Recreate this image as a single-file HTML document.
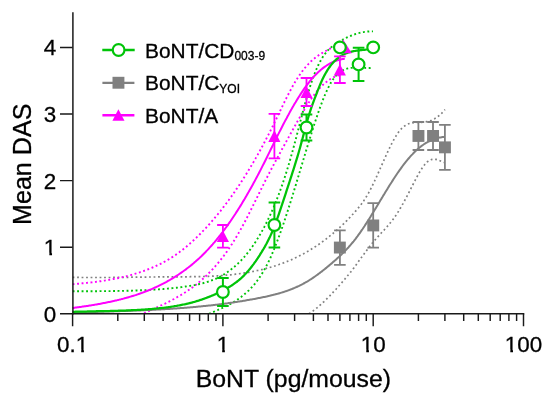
<!DOCTYPE html>
<html><head><meta charset="utf-8"><title>BoNT dose response</title>
<style>html,body{margin:0;padding:0;background:#fff}body{width:550px;height:404px;overflow:hidden}</style></head>
<body>
<svg width="550" height="404" viewBox="0 0 550 404" style="display:block">
<rect width="550" height="404" fill="#fff"/>
<defs><clipPath id="plot"><rect x="72.6" y="0" width="460" height="313.8"/></clipPath></defs>
<path d="M72.6,277.4 L73.6,277.4 L74.6,277.4 L75.6,277.4 L76.6,277.4 L77.6,277.4 L78.6,277.4 L79.6,277.5 L80.6,277.5 L81.6,277.5 L82.6,277.5 L83.6,277.5 L84.6,277.5 L85.6,277.5 L86.6,277.5 L87.6,277.5 L88.6,277.5 L89.6,277.5 L90.6,277.5 L91.6,277.5 L92.6,277.5 L93.6,277.5 L94.6,277.5 L95.6,277.5 L96.6,277.5 L97.6,277.5 L98.6,277.5 L99.6,277.5 L100.6,277.5 L101.6,277.5 L102.6,277.5 L103.6,277.5 L104.6,277.5 L105.6,277.5 L106.6,277.5 L107.6,277.5 L108.6,277.5 L109.6,277.5 L110.6,277.5 L111.6,277.5 L112.6,277.4 L113.6,277.4 L114.6,277.4 L115.6,277.4 L116.6,277.4 L117.6,277.4 L118.6,277.4 L119.6,277.4 L120.6,277.4 L121.6,277.4 L122.6,277.3 L123.6,277.3 L124.6,277.3 L125.6,277.3 L126.6,277.3 L127.6,277.3 L128.6,277.3 L129.6,277.3 L130.6,277.3 L131.6,277.2 L132.6,277.2 L133.6,277.2 L134.6,277.2 L135.6,277.2 L136.6,277.2 L137.6,277.2 L138.6,277.2 L139.6,277.1 L140.6,277.1 L141.6,277.1 L142.6,277.1 L143.6,277.1 L144.6,277.1 L145.6,277.1 L146.6,277.1 L147.6,277.1 L148.6,277.0 L149.6,277.0 L150.6,277.0 L151.6,277.0 L152.6,277.0 L153.6,277.0 L154.6,277.0 L155.6,277.0 L156.6,277.0 L157.6,277.0 L158.6,276.9 L159.6,276.9 L160.6,276.9 L161.6,276.9 L162.6,276.9 L163.6,276.9 L164.6,276.9 L165.6,276.9 L166.6,276.9 L167.6,276.9 L168.6,276.9 L169.6,276.9 L170.6,276.9 L171.6,276.9 L172.6,276.9 L173.6,276.9 L174.6,276.9 L175.6,276.9 L176.6,276.8 L177.6,276.8 L178.6,276.8 L179.6,276.8 L180.6,276.8 L181.6,276.8 L182.6,276.8 L183.6,276.8 L184.6,276.8 L185.6,276.8 L186.6,276.8 L187.6,276.8 L188.6,276.8 L189.6,276.8 L190.6,276.7 L191.6,276.7 L192.6,276.7 L193.6,276.7 L194.6,276.7 L195.6,276.7 L196.6,276.6 L197.6,276.6 L198.6,276.6 L199.6,276.6 L200.6,276.6 L201.6,276.5 L202.6,276.5 L203.6,276.5 L204.6,276.4 L205.6,276.4 L206.6,276.4 L207.6,276.3 L208.6,276.3 L209.6,276.2 L210.6,276.2 L211.6,276.2 L212.6,276.1 L213.6,276.1 L214.6,276.0 L215.6,275.9 L216.6,275.9 L217.6,275.8 L218.6,275.8 L219.6,275.7 L220.6,275.6 L221.6,275.6 L222.6,275.5 L223.6,275.4 L224.6,275.3 L225.6,275.2 L226.6,275.1 L227.6,275.1 L228.6,275.0 L229.6,274.9 L230.6,274.8 L231.6,274.7 L232.6,274.5 L233.6,274.4 L234.6,274.3 L235.6,274.2 L236.6,274.1 L237.6,273.9 L238.6,273.8 L239.6,273.7 L240.6,273.5 L241.6,273.4 L242.6,273.3 L243.6,273.1 L244.6,272.9 L245.6,272.8 L246.6,272.6 L247.6,272.5 L248.6,272.3 L249.6,272.1 L250.6,271.9 L251.6,271.7 L252.6,271.5 L253.6,271.3 L254.6,271.1 L255.6,270.9 L256.6,270.7 L257.6,270.5 L258.6,270.3 L259.6,270.1 L260.6,269.8 L261.6,269.6 L262.6,269.4 L263.6,269.1 L264.6,268.8 L265.6,268.6 L266.6,268.3 L267.6,268.1 L268.6,267.8 L269.6,267.5 L270.6,267.2 L271.6,266.9 L272.6,266.6 L273.6,266.3 L274.6,266.0 L275.6,265.7 L276.6,265.3 L277.6,265.0 L278.6,264.7 L279.6,264.3 L280.6,264.0 L281.6,263.6 L282.6,263.2 L283.6,262.9 L284.6,262.5 L285.6,262.1 L286.6,261.7 L287.6,261.3 L288.6,260.9 L289.6,260.4 L290.6,260.0 L291.6,259.6 L292.6,259.1 L293.6,258.7 L294.6,258.2 L295.6,257.7 L296.6,257.3 L297.6,256.8 L298.6,256.3 L299.6,255.8 L300.6,255.3 L301.6,254.8 L302.6,254.2 L303.6,253.7 L304.6,253.1 L305.6,252.6 L306.6,252.0 L307.6,251.4 L308.6,250.9 L309.6,250.3 L310.6,249.7 L311.6,249.0 L312.6,248.4 L313.6,247.8 L314.6,247.1 L315.6,246.5 L316.6,245.8 L317.6,245.1 L318.6,244.5 L319.6,243.8 L320.6,243.1 L321.6,242.4 L322.6,241.6 L323.6,240.9 L324.6,240.1 L325.6,239.4 L326.6,238.6 L327.6,237.8 L328.6,237.0 L329.6,236.2 L330.6,235.4 L331.6,234.6 L332.6,233.8 L333.6,232.9 L334.6,232.1 L335.6,231.2 L336.6,230.3 L337.6,229.4 L338.6,228.5 L339.6,227.6 L340.6,226.6 L341.6,225.7 L342.6,224.7 L343.6,223.8 L344.6,222.8 L345.6,221.8 L346.6,220.8 L347.6,219.8 L348.6,218.7 L349.6,217.7 L350.6,216.6 L351.6,215.6 L352.6,214.5 L353.6,213.4 L354.6,212.3 L355.6,211.1 L356.6,210.0 L357.6,208.8 L358.6,207.6 L359.6,206.4 L360.6,205.1 L361.6,203.8 L362.6,202.4 L363.6,201.0 L364.6,199.5 L365.6,198.0 L366.6,196.3 L367.6,194.6 L368.6,192.9 L369.6,191.0 L370.6,189.1 L371.6,187.2 L372.6,185.2 L373.6,183.1 L374.6,181.0 L375.6,178.8 L376.6,176.7 L377.6,174.5 L378.6,172.2 L379.6,170.0 L380.6,167.7 L381.6,165.5 L382.6,163.2 L383.6,160.9 L384.6,158.7 L385.6,156.5 L386.6,154.3 L387.6,152.1 L388.6,149.9 L389.6,147.9 L390.6,145.8 L391.6,143.8 L392.6,141.9 L393.6,140.1 L394.6,138.3 L395.6,136.6 L396.6,135.0 L397.6,133.5 L398.6,132.1 L399.6,130.8 L400.6,129.6 L401.6,128.5 L402.6,127.6 L403.6,126.7 L404.6,126.0 L405.6,125.3 L406.6,124.7 L407.6,124.2 L408.6,123.8 L409.6,123.5 L410.6,123.2 L411.6,123.0 L412.6,122.8 L413.6,122.6 L414.6,122.5 L415.6,122.5 L416.6,122.4 L417.6,122.4 L418.6,122.3 L419.6,122.3 L420.6,122.3 L421.6,122.3 L422.6,122.2 L423.6,122.1 L424.6,122.0 L425.6,121.9 L426.6,121.7 L427.6,121.5 L428.6,121.2 L429.6,120.9 L430.6,120.6 L431.6,120.2 L432.6,119.7 L433.6,119.2 L434.6,118.7 L435.6,118.1 L436.6,117.4 L437.6,116.7 L438.6,116.0 L439.6,115.1 L440.6,114.2 L441.6,113.3 L442.6,112.3 L443.6,111.2 L444.6,110.0 L444.9,109.6" fill="none" stroke="#808080" stroke-width="1.7" stroke-dasharray="1.8 2.7" clip-path="url(#plot)"/>
<path d="M309.0,313.8 L310.0,313.1 L311.0,312.4 L312.0,311.7 L313.0,311.0 L314.0,310.2 L315.0,309.4 L316.0,308.6 L317.0,307.8 L318.0,307.0 L319.0,306.1 L320.0,305.2 L321.0,304.3 L322.0,303.4 L323.0,302.5 L324.0,301.6 L325.0,300.6 L326.0,299.6 L327.0,298.6 L328.0,297.6 L329.0,296.6 L330.0,295.6 L331.0,294.5 L332.0,293.5 L333.0,292.4 L334.0,291.3 L335.0,290.3 L336.0,289.2 L337.0,288.0 L338.0,286.9 L339.0,285.8 L340.0,284.7 L341.0,283.5 L342.0,282.4 L343.0,281.2 L344.0,280.0 L345.0,278.9 L346.0,277.7 L347.0,276.5 L348.0,275.3 L349.0,274.1 L350.0,272.8 L351.0,271.6 L352.0,270.3 L353.0,269.0 L354.0,267.7 L355.0,266.3 L356.0,265.0 L357.0,263.6 L358.0,262.2 L359.0,260.8 L360.0,259.4 L361.0,258.0 L362.0,256.7 L363.0,255.3 L364.0,254.0 L365.0,252.6 L366.0,251.3 L367.0,250.0 L368.0,248.7 L369.0,247.4 L370.0,246.1 L371.0,244.9 L372.0,243.6 L373.0,242.4 L374.0,241.2 L375.0,240.0 L376.0,238.8 L377.0,237.7 L378.0,236.6 L379.0,235.5 L380.0,234.4 L381.0,233.3 L382.0,232.2 L383.0,231.1 L384.0,230.1 L385.0,229.0 L386.0,227.9 L387.0,226.8 L388.0,225.6 L389.0,224.4 L390.0,223.2 L391.0,222.0 L392.0,220.7 L393.0,219.4 L394.0,218.1 L395.0,216.6 L396.0,215.2 L397.0,213.7 L398.0,212.1 L399.0,210.5 L400.0,208.8 L401.0,207.1 L402.0,205.3 L403.0,203.6 L404.0,201.8 L405.0,199.9 L406.0,198.0 L407.0,196.2 L408.0,194.2 L409.0,192.3 L410.0,190.4 L411.0,188.4 L412.0,186.4 L413.0,184.5 L414.0,182.5 L415.0,180.6 L416.0,178.7 L417.0,176.8 L418.0,175.0 L419.0,173.2 L420.0,171.5 L421.0,169.9 L422.0,168.3 L423.0,166.9 L424.0,165.5 L425.0,164.3 L426.0,163.2 L427.0,162.2 L428.0,161.3 L429.0,160.6 L430.0,160.1 L431.0,159.7 L432.0,159.4 L433.0,159.2 L434.0,159.2 L435.0,159.3 L436.0,159.4 L437.0,159.7 L438.0,160.0 L439.0,160.3 L440.0,160.7 L441.0,161.2 L442.0,161.7 L443.0,162.1 L444.0,162.6" fill="none" stroke="#808080" stroke-width="1.7" stroke-dasharray="1.8 2.7" clip-path="url(#plot)"/>
<path d="M72.6,284.2 L73.6,284.1 L74.6,284.1 L75.6,284.0 L76.6,283.9 L77.6,283.8 L78.6,283.7 L79.6,283.6 L80.6,283.5 L81.6,283.4 L82.6,283.3 L83.6,283.2 L84.6,283.1 L85.6,283.0 L86.6,282.9 L87.6,282.8 L88.6,282.7 L89.6,282.6 L90.6,282.5 L91.6,282.4 L92.6,282.2 L93.6,282.1 L94.6,282.0 L95.6,281.9 L96.6,281.7 L97.6,281.6 L98.6,281.5 L99.6,281.3 L100.6,281.2 L101.6,281.0 L102.6,280.9 L103.6,280.7 L104.6,280.6 L105.6,280.4 L106.6,280.3 L107.6,280.1 L108.6,279.9 L109.6,279.7 L110.6,279.6 L111.6,279.4 L112.6,279.2 L113.6,279.0 L114.6,278.8 L115.6,278.6 L116.6,278.4 L117.6,278.2 L118.6,278.0 L119.6,277.8 L120.6,277.6 L121.6,277.3 L122.6,277.1 L123.6,276.9 L124.6,276.6 L125.6,276.4 L126.6,276.1 L127.6,275.9 L128.6,275.6 L129.6,275.3 L130.6,275.1 L131.6,274.8 L132.6,274.5 L133.6,274.2 L134.6,273.9 L135.6,273.6 L136.6,273.3 L137.6,273.0 L138.6,272.7 L139.6,272.4 L140.6,272.0 L141.6,271.7 L142.6,271.3 L143.6,271.0 L144.6,270.6 L145.6,270.3 L146.6,269.9 L147.6,269.5 L148.6,269.1 L149.6,268.7 L150.6,268.3 L151.6,267.9 L152.6,267.5 L153.6,267.1 L154.6,266.6 L155.6,266.2 L156.6,265.7 L157.6,265.2 L158.6,264.8 L159.6,264.3 L160.6,263.8 L161.6,263.3 L162.6,262.7 L163.6,262.2 L164.6,261.7 L165.6,261.1 L166.6,260.5 L167.6,260.0 L168.6,259.4 L169.6,258.8 L170.6,258.1 L171.6,257.5 L172.6,256.9 L173.6,256.2 L174.6,255.5 L175.6,254.9 L176.6,254.2 L177.6,253.5 L178.6,252.7 L179.6,252.0 L180.6,251.2 L181.6,250.5 L182.6,249.7 L183.6,248.9 L184.6,248.1 L185.6,247.3 L186.6,246.5 L187.6,245.6 L188.6,244.8 L189.6,243.9 L190.6,243.0 L191.6,242.1 L192.6,241.2 L193.6,240.3 L194.6,239.3 L195.6,238.4 L196.6,237.4 L197.6,236.5 L198.6,235.5 L199.6,234.5 L200.6,233.5 L201.6,232.5 L202.6,231.4 L203.6,230.4 L204.6,229.3 L205.6,228.3 L206.6,227.2 L207.6,226.1 L208.6,225.0 L209.6,223.9 L210.6,222.7 L211.6,221.6 L212.6,220.4 L213.6,219.3 L214.6,218.1 L215.6,216.9 L216.6,215.7 L217.6,214.5 L218.6,213.3 L219.6,212.0 L220.6,210.8 L221.6,209.5 L222.6,208.2 L223.6,206.9 L224.6,205.6 L225.6,204.3 L226.6,203.0 L227.6,201.6 L228.6,200.3 L229.6,198.9 L230.6,197.5 L231.6,196.1 L232.6,194.7 L233.6,193.3 L234.6,191.9 L235.6,190.4 L236.6,188.9 L237.6,187.5 L238.6,186.0 L239.6,184.5 L240.6,182.9 L241.6,181.4 L242.6,179.8 L243.6,178.3 L244.6,176.7 L245.6,175.1 L246.6,173.5 L247.6,171.9 L248.6,170.2 L249.6,168.6 L250.6,166.9 L251.6,165.3 L252.6,163.6 L253.6,161.9 L254.6,160.1 L255.6,158.4 L256.6,156.6 L257.6,154.9 L258.6,153.1 L259.6,151.3 L260.6,149.5 L261.6,147.6 L262.6,145.8 L263.6,143.9 L264.6,142.0 L265.6,140.2 L266.6,138.2 L267.6,136.3 L268.6,134.4 L269.6,132.4 L270.6,130.4 L271.6,128.5 L272.6,126.5 L273.6,124.4 L274.6,122.4 L275.6,120.3 L276.6,118.3 L277.6,116.2 L278.6,114.1 L279.6,112.0 L280.6,110.0 L281.6,107.9 L282.6,105.8 L283.6,103.8 L284.6,101.7 L285.6,99.7 L286.6,97.7 L287.6,95.7 L288.6,93.8 L289.6,91.8 L290.6,90.0 L291.6,88.1 L292.6,86.3 L293.6,84.6 L294.6,82.8 L295.6,81.2 L296.6,79.6 L297.6,78.0 L298.6,76.5 L299.6,75.0 L300.6,73.6 L301.6,72.2 L302.6,70.8 L303.6,69.5 L304.6,68.3 L305.6,67.1 L306.6,65.9 L307.6,64.8 L308.6,63.8 L309.6,62.7 L310.6,61.8 L311.6,60.8 L312.6,59.9 L313.6,59.1 L314.6,58.3 L315.6,57.5 L316.6,56.7 L317.6,56.0 L318.6,55.3 L319.6,54.6 L320.6,54.0 L321.6,53.4 L322.6,52.8 L323.6,52.2 L324.6,51.6 L325.6,51.0 L326.6,50.5 L327.6,50.0 L328.6,49.4 L329.6,48.9 L330.6,48.4 L331.6,47.9 L332.6,47.4 L333.6,46.8 L334.6,46.3 L335.6,45.8 L336.6,45.3 L337.6,44.7 L338.6,44.1 L339.6,43.6" fill="none" stroke="#ff00ff" stroke-width="1.9" stroke-dasharray="1.9 2.6" clip-path="url(#plot)"/>
<path d="M140.0,315.2 L141.0,314.7 L142.0,314.2 L143.0,313.8 L144.0,313.3 L145.0,312.8 L146.0,312.4 L147.0,311.9 L148.0,311.5 L149.0,311.0 L150.0,310.5 L151.0,310.1 L152.0,309.6 L153.0,309.2 L154.0,308.7 L155.0,308.3 L156.0,307.8 L157.0,307.3 L158.0,306.9 L159.0,306.4 L160.0,305.9 L161.0,305.5 L162.0,305.0 L163.0,304.5 L164.0,304.0 L165.0,303.6 L166.0,303.1 L167.0,302.6 L168.0,302.1 L169.0,301.6 L170.0,301.1 L171.0,300.6 L172.0,300.0 L173.0,299.5 L174.0,299.0 L175.0,298.4 L176.0,297.9 L177.0,297.3 L178.0,296.7 L179.0,296.2 L180.0,295.6 L181.0,295.0 L182.0,294.4 L183.0,293.8 L184.0,293.1 L185.0,292.5 L186.0,291.8 L187.0,291.2 L188.0,290.5 L189.0,289.8 L190.0,289.1 L191.0,288.4 L192.0,287.7 L193.0,287.0 L194.0,286.2 L195.0,285.4 L196.0,284.7 L197.0,283.9 L198.0,283.1 L199.0,282.2 L200.0,281.4 L201.0,280.5 L202.0,279.7 L203.0,278.8 L204.0,277.9 L205.0,276.9 L206.0,276.0 L207.0,275.0 L208.0,274.0 L209.0,273.0 L210.0,272.0 L211.0,271.0 L212.0,269.9 L213.0,268.8 L214.0,267.7 L215.0,266.6 L216.0,265.5 L217.0,264.3 L218.0,263.1 L219.0,261.9 L220.0,260.7 L221.0,259.4 L222.0,258.1 L223.0,256.8 L224.0,255.5 L225.0,254.1 L226.0,252.8 L227.0,251.4 L228.0,249.9 L229.0,248.5 L230.0,247.0 L231.0,245.5 L232.0,244.0 L233.0,242.4 L234.0,240.8 L235.0,239.2 L236.0,237.5 L237.0,235.9 L238.0,234.2 L239.0,232.4 L240.0,230.7 L241.0,228.9 L242.0,227.1 L243.0,225.2 L244.0,223.4 L245.0,221.5 L246.0,219.5 L247.0,217.6 L248.0,215.7 L249.0,213.7 L250.0,211.7 L251.0,209.7 L252.0,207.7 L253.0,205.7 L254.0,203.7 L255.0,201.6 L256.0,199.6 L257.0,197.6 L258.0,195.5 L259.0,193.5 L260.0,191.5 L261.0,189.4 L262.0,187.4 L263.0,185.4 L264.0,183.4 L265.0,181.4 L266.0,179.4 L267.0,177.5 L268.0,175.5 L269.0,173.6 L270.0,171.6 L271.0,169.7 L272.0,167.8 L273.0,165.9 L274.0,164.1 L275.0,162.2 L276.0,160.3 L277.0,158.5 L278.0,156.6 L279.0,154.8 L280.0,153.0 L281.0,151.1 L282.0,149.3 L283.0,147.5 L284.0,145.7 L285.0,143.9 L286.0,142.0 L287.0,140.2 L288.0,138.4 L289.0,136.6 L290.0,134.8 L291.0,133.0 L292.0,131.2 L293.0,129.4 L294.0,127.6 L295.0,125.8 L296.0,124.0 L297.0,122.2 L298.0,120.4 L299.0,118.7 L300.0,116.9 L301.0,115.2 L302.0,113.5 L303.0,111.8 L304.0,110.2 L305.0,108.5 L306.0,106.9 L307.0,105.3 L308.0,103.7 L309.0,102.2 L310.0,100.7 L311.0,99.2 L312.0,97.8 L313.0,96.4 L314.0,95.1 L315.0,93.7 L316.0,92.5 L317.0,91.2 L318.0,90.1 L319.0,88.9 L320.0,87.8 L321.0,86.8 L322.0,85.8 L323.0,84.8 L324.0,83.9 L325.0,83.0 L326.0,82.2 L327.0,81.4 L328.0,80.6 L329.0,79.9 L330.0,79.3 L331.0,78.6 L332.0,78.1 L333.0,77.5 L334.0,77.0 L335.0,76.6 L336.0,76.2 L337.0,75.8 L338.0,75.5 L339.0,75.2 L339.6,75.0" fill="none" stroke="#ff00ff" stroke-width="1.9" stroke-dasharray="1.9 2.6" clip-path="url(#plot)"/>
<path d="M72.6,291.3 L73.6,291.3 L74.6,291.3 L75.6,291.3 L76.6,291.3 L77.6,291.3 L78.6,291.3 L79.6,291.3 L80.6,291.2 L81.6,291.2 L82.6,291.2 L83.6,291.2 L84.6,291.2 L85.6,291.2 L86.6,291.2 L87.6,291.2 L88.6,291.2 L89.6,291.2 L90.6,291.2 L91.6,291.2 L92.6,291.2 L93.6,291.2 L94.6,291.2 L95.6,291.2 L96.6,291.2 L97.6,291.2 L98.6,291.2 L99.6,291.1 L100.6,291.1 L101.6,291.1 L102.6,291.1 L103.6,291.1 L104.6,291.1 L105.6,291.1 L106.6,291.1 L107.6,291.1 L108.6,291.1 L109.6,291.1 L110.6,291.1 L111.6,291.0 L112.6,291.0 L113.6,291.0 L114.6,291.0 L115.6,291.0 L116.6,291.0 L117.6,291.0 L118.6,290.9 L119.6,290.9 L120.6,290.9 L121.6,290.9 L122.6,290.9 L123.6,290.9 L124.6,290.8 L125.6,290.8 L126.6,290.8 L127.6,290.8 L128.6,290.7 L129.6,290.7 L130.6,290.7 L131.6,290.7 L132.6,290.6 L133.6,290.6 L134.6,290.6 L135.6,290.5 L136.6,290.5 L137.6,290.5 L138.6,290.4 L139.6,290.4 L140.6,290.3 L141.6,290.3 L142.6,290.3 L143.6,290.2 L144.6,290.2 L145.6,290.1 L146.6,290.1 L147.6,290.0 L148.6,290.0 L149.6,289.9 L150.6,289.9 L151.6,289.8 L152.6,289.8 L153.6,289.7 L154.6,289.6 L155.6,289.6 L156.6,289.5 L157.6,289.4 L158.6,289.4 L159.6,289.3 L160.6,289.2 L161.6,289.1 L162.6,289.1 L163.6,289.0 L164.6,288.9 L165.6,288.8 L166.6,288.7 L167.6,288.6 L168.6,288.5 L169.6,288.4 L170.6,288.3 L171.6,288.2 L172.6,288.1 L173.6,288.0 L174.6,287.9 L175.6,287.8 L176.6,287.7 L177.6,287.6 L178.6,287.5 L179.6,287.3 L180.6,287.2 L181.6,287.1 L182.6,286.9 L183.6,286.8 L184.6,286.7 L185.6,286.5 L186.6,286.4 L187.6,286.2 L188.6,286.1 L189.6,285.9 L190.6,285.8 L191.6,285.6 L192.6,285.4 L193.6,285.2 L194.6,285.1 L195.6,284.9 L196.6,284.7 L197.6,284.4 L198.6,284.2 L199.6,284.0 L200.6,283.8 L201.6,283.5 L202.6,283.3 L203.6,283.0 L204.6,282.7 L205.6,282.4 L206.6,282.1 L207.6,281.8 L208.6,281.5 L209.6,281.1 L210.6,280.8 L211.6,280.4 L212.6,280.0 L213.6,279.6 L214.6,279.2 L215.6,278.8 L216.6,278.3 L217.6,277.8 L218.6,277.3 L219.6,276.8 L220.6,276.3 L221.6,275.7 L222.6,275.2 L223.6,274.6 L224.6,274.0 L225.6,273.3 L226.6,272.7 L227.6,272.0 L228.6,271.3 L229.6,270.6 L230.6,269.8 L231.6,269.1 L232.6,268.3 L233.6,267.5 L234.6,266.6 L235.6,265.7 L236.6,264.8 L237.6,263.9 L238.6,262.9 L239.6,261.9 L240.6,260.9 L241.6,259.9 L242.6,258.8 L243.6,257.7 L244.6,256.6 L245.6,255.4 L246.6,254.2 L247.6,252.9 L248.6,251.7 L249.6,250.4 L250.6,249.0 L251.6,247.6 L252.6,246.2 L253.6,244.8 L254.6,243.3 L255.6,241.8 L256.6,240.2 L257.6,238.6 L258.6,237.0 L259.6,235.3 L260.6,233.6 L261.6,231.9 L262.6,230.1 L263.6,228.2 L264.6,226.4 L265.6,224.4 L266.6,222.5 L267.6,220.5 L268.6,218.4 L269.6,216.3 L270.6,214.1 L271.6,211.9 L272.6,209.6 L273.6,207.3 L274.6,204.9 L275.6,202.5 L276.6,200.0 L277.6,197.4 L278.6,194.8 L279.6,192.1 L280.6,189.4 L281.6,186.6 L282.6,183.7 L283.6,180.8 L284.6,177.7 L285.6,174.6 L286.6,171.5 L287.6,168.3 L288.6,165.0 L289.6,161.6 L290.6,158.1 L291.6,154.6 L292.6,151.0 L293.6,147.3 L294.6,143.6 L295.6,139.8 L296.6,136.0 L297.6,132.2 L298.6,128.3 L299.6,124.4 L300.6,120.6 L301.6,116.7 L302.6,112.9 L303.6,109.1 L304.6,105.4 L305.6,101.8 L306.6,98.2 L307.6,94.7 L308.6,91.3 L309.6,88.0 L310.6,84.9 L311.6,81.9 L312.6,79.0 L313.6,76.3 L314.6,73.7 L315.6,71.2 L316.6,68.8 L317.6,66.6 L318.6,64.5 L319.6,62.5 L320.6,60.7 L321.6,59.0 L322.6,57.3 L323.6,55.8 L324.6,54.4 L325.6,53.1 L326.6,51.9 L327.6,50.7 L328.6,49.7 L329.6,48.7 L330.6,47.8 L331.6,46.9 L332.6,46.1 L333.6,45.3 L334.6,44.6 L335.6,43.9 L336.6,43.3 L337.6,42.6 L338.6,42.0 L339.6,41.4 L340.6,40.9 L341.6,40.3 L342.6,39.8 L343.6,39.2 L344.6,38.7 L345.6,38.2 L346.6,37.7 L347.6,37.2 L348.6,36.8 L349.6,36.3 L350.6,35.9 L351.6,35.5 L352.6,35.1 L353.6,34.7 L354.6,34.4 L355.6,34.0 L356.6,33.7 L357.6,33.4 L358.6,33.2 L359.6,32.9 L360.6,32.7 L361.6,32.4 L362.6,32.2 L363.6,32.1 L364.6,31.9 L365.6,31.8 L366.6,31.6 L367.6,31.5 L368.6,31.5 L369.6,31.4 L370.6,31.4 L371.6,31.4 L372.6,31.4 L373.0,31.4" fill="none" stroke="#00c408" stroke-width="1.9" stroke-dasharray="1.9 2.6" clip-path="url(#plot)"/>
<path d="M205.0,315.8 L206.0,315.3 L207.0,314.8 L208.0,314.4 L209.0,313.9 L210.0,313.4 L211.0,313.0 L212.0,312.5 L213.0,312.1 L214.0,311.7 L215.0,311.2 L216.0,310.8 L217.0,310.3 L218.0,309.9 L219.0,309.4 L220.0,309.0 L221.0,308.5 L222.0,308.1 L223.0,307.6 L224.0,307.1 L225.0,306.7 L226.0,306.2 L227.0,305.7 L228.0,305.2 L229.0,304.6 L230.0,304.1 L231.0,303.6 L232.0,303.0 L233.0,302.4 L234.0,301.8 L235.0,301.2 L236.0,300.6 L237.0,299.9 L238.0,299.2 L239.0,298.5 L240.0,297.8 L241.0,297.1 L242.0,296.3 L243.0,295.5 L244.0,294.7 L245.0,293.8 L246.0,293.0 L247.0,292.1 L248.0,291.1 L249.0,290.2 L250.0,289.2 L251.0,288.1 L252.0,287.0 L253.0,285.9 L254.0,284.8 L255.0,283.6 L256.0,282.3 L257.0,281.0 L258.0,279.7 L259.0,278.3 L260.0,276.8 L261.0,275.3 L262.0,273.7 L263.0,272.1 L264.0,270.3 L265.0,268.6 L266.0,266.7 L267.0,264.8 L268.0,262.9 L269.0,260.8 L270.0,258.7 L271.0,256.5 L272.0,254.2 L273.0,251.8 L274.0,249.4 L275.0,247.0 L276.0,244.4 L277.0,241.8 L278.0,239.2 L279.0,236.5 L280.0,233.7 L281.0,230.9 L282.0,228.0 L283.0,225.1 L284.0,222.2 L285.0,219.2 L286.0,216.1 L287.0,213.1 L288.0,210.0 L289.0,206.8 L290.0,203.7 L291.0,200.5 L292.0,197.3 L293.0,194.0 L294.0,190.8 L295.0,187.5 L296.0,184.2 L297.0,180.9 L298.0,177.6 L299.0,174.3 L300.0,170.9 L301.0,167.6 L302.0,164.3 L303.0,161.0 L304.0,157.6 L305.0,154.3 L306.0,151.0 L307.0,147.7 L308.0,144.5 L309.0,141.2 L310.0,138.0 L311.0,134.8 L312.0,131.6 L313.0,128.4 L314.0,125.3 L315.0,122.2 L316.0,119.2 L317.0,116.2 L318.0,113.3 L319.0,110.4 L320.0,107.6 L321.0,104.9 L322.0,102.3 L323.0,99.7 L324.0,97.2 L325.0,94.8 L326.0,92.5 L327.0,90.3 L328.0,88.2 L329.0,86.2 L330.0,84.4 L331.0,82.6 L332.0,81.0 L333.0,79.5 L334.0,78.1 L335.0,76.9 L336.0,75.7 L337.0,74.7 L338.0,73.7 L339.0,72.8 L340.0,72.1 L341.0,71.4 L342.0,70.7 L343.0,70.2 L344.0,69.7 L345.0,69.3 L346.0,69.0 L347.0,68.7 L348.0,68.4 L349.0,68.2 L350.0,68.1 L351.0,67.9 L352.0,67.9 L353.0,67.8 L354.0,67.7 L355.0,67.7 L356.0,67.7 L357.0,67.7 L358.0,67.7 L359.0,67.7 L360.0,67.8 L361.0,67.8 L362.0,67.8 L363.0,67.9 L364.0,67.9 L365.0,67.9 L366.0,68.0 L367.0,68.0 L368.0,68.0 L369.0,68.0 L370.0,68.0 L371.0,67.9 L372.0,67.9 L373.0,67.8" fill="none" stroke="#00c408" stroke-width="1.9" stroke-dasharray="1.9 2.6" clip-path="url(#plot)"/>
<path d="M72.6,312.7 L73.6,312.7 L74.6,312.7 L75.6,312.6 L76.6,312.6 L77.6,312.5 L78.6,312.5 L79.6,312.5 L80.6,312.4 L81.6,312.4 L82.6,312.4 L83.6,312.3 L84.6,312.3 L85.6,312.3 L86.6,312.2 L87.6,312.2 L88.6,312.2 L89.6,312.1 L90.6,312.1 L91.6,312.1 L92.6,312.0 L93.6,312.0 L94.6,312.0 L95.6,311.9 L96.6,311.9 L97.6,311.9 L98.6,311.8 L99.6,311.8 L100.6,311.8 L101.6,311.7 L102.6,311.7 L103.6,311.7 L104.6,311.6 L105.6,311.6 L106.6,311.6 L107.6,311.5 L108.6,311.5 L109.6,311.5 L110.6,311.5 L111.6,311.4 L112.6,311.4 L113.6,311.4 L114.6,311.3 L115.6,311.3 L116.6,311.3 L117.6,311.2 L118.6,311.2 L119.6,311.2 L120.6,311.1 L121.6,311.1 L122.6,311.0 L123.6,311.0 L124.6,311.0 L125.6,310.9 L126.6,310.9 L127.6,310.9 L128.6,310.8 L129.6,310.8 L130.6,310.8 L131.6,310.7 L132.6,310.7 L133.6,310.6 L134.6,310.6 L135.6,310.6 L136.6,310.5 L137.6,310.5 L138.6,310.4 L139.6,310.4 L140.6,310.4 L141.6,310.3 L142.6,310.3 L143.6,310.2 L144.6,310.2 L145.6,310.1 L146.6,310.1 L147.6,310.1 L148.6,310.0 L149.6,310.0 L150.6,309.9 L151.6,309.9 L152.6,309.8 L153.6,309.8 L154.6,309.7 L155.6,309.7 L156.6,309.6 L157.6,309.6 L158.6,309.5 L159.6,309.5 L160.6,309.4 L161.6,309.3 L162.6,309.3 L163.6,309.2 L164.6,309.2 L165.6,309.1 L166.6,309.1 L167.6,309.0 L168.6,308.9 L169.6,308.9 L170.6,308.8 L171.6,308.7 L172.6,308.7 L173.6,308.6 L174.6,308.5 L175.6,308.5 L176.6,308.4 L177.6,308.3 L178.6,308.3 L179.6,308.2 L180.6,308.1 L181.6,308.0 L182.6,308.0 L183.6,307.9 L184.6,307.8 L185.6,307.7 L186.6,307.7 L187.6,307.6 L188.6,307.5 L189.6,307.4 L190.6,307.3 L191.6,307.2 L192.6,307.2 L193.6,307.1 L194.6,307.0 L195.6,306.9 L196.6,306.8 L197.6,306.7 L198.6,306.6 L199.6,306.5 L200.6,306.4 L201.6,306.3 L202.6,306.2 L203.6,306.1 L204.6,306.0 L205.6,305.9 L206.6,305.8 L207.6,305.7 L208.6,305.6 L209.6,305.5 L210.6,305.4 L211.6,305.3 L212.6,305.2 L213.6,305.0 L214.6,304.9 L215.6,304.8 L216.6,304.7 L217.6,304.6 L218.6,304.4 L219.6,304.3 L220.6,304.2 L221.6,304.1 L222.6,303.9 L223.6,303.8 L224.6,303.7 L225.6,303.5 L226.6,303.4 L227.6,303.3 L228.6,303.1 L229.6,303.0 L230.6,302.8 L231.6,302.7 L232.6,302.6 L233.6,302.4 L234.6,302.3 L235.6,302.1 L236.6,301.9 L237.6,301.8 L238.6,301.6 L239.6,301.5 L240.6,301.3 L241.6,301.2 L242.6,301.0 L243.6,300.8 L244.6,300.7 L245.6,300.5 L246.6,300.3 L247.6,300.1 L248.6,300.0 L249.6,299.8 L250.6,299.6 L251.6,299.4 L252.6,299.2 L253.6,299.1 L254.6,298.9 L255.6,298.7 L256.6,298.5 L257.6,298.3 L258.6,298.1 L259.6,297.9 L260.6,297.7 L261.6,297.5 L262.6,297.3 L263.6,297.1 L264.6,296.9 L265.6,296.7 L266.6,296.5 L267.6,296.2 L268.6,296.0 L269.6,295.8 L270.6,295.5 L271.6,295.3 L272.6,295.1 L273.6,294.8 L274.6,294.6 L275.6,294.3 L276.6,294.0 L277.6,293.8 L278.6,293.5 L279.6,293.2 L280.6,292.9 L281.6,292.6 L282.6,292.3 L283.6,292.0 L284.6,291.6 L285.6,291.3 L286.6,291.0 L287.6,290.6 L288.6,290.3 L289.6,289.9 L290.6,289.5 L291.6,289.1 L292.6,288.7 L293.6,288.3 L294.6,287.9 L295.6,287.4 L296.6,287.0 L297.6,286.5 L298.6,286.1 L299.6,285.6 L300.6,285.1 L301.6,284.6 L302.6,284.1 L303.6,283.5 L304.6,283.0 L305.6,282.4 L306.6,281.8 L307.6,281.3 L308.6,280.7 L309.6,280.0 L310.6,279.4 L311.6,278.8 L312.6,278.1 L313.6,277.4 L314.6,276.7 L315.6,276.0 L316.6,275.3 L317.6,274.6 L318.6,273.8 L319.6,273.1 L320.6,272.3 L321.6,271.6 L322.6,270.8 L323.6,270.0 L324.6,269.2 L325.6,268.4 L326.6,267.6 L327.6,266.7 L328.6,265.9 L329.6,265.1 L330.6,264.2 L331.6,263.4 L332.6,262.5 L333.6,261.6 L334.6,260.8 L335.6,259.9 L336.6,259.0 L337.6,258.1 L338.6,257.2 L339.6,256.3 L340.6,255.3 L341.6,254.4 L342.6,253.4 L343.6,252.4 L344.6,251.4 L345.6,250.4 L346.6,249.3 L347.6,248.2 L348.6,247.2 L349.6,246.0 L350.6,244.9 L351.6,243.7 L352.6,242.5 L353.6,241.3 L354.6,240.0 L355.6,238.8 L356.6,237.4 L357.6,236.1 L358.6,234.7 L359.6,233.3 L360.6,231.9 L361.6,230.4 L362.6,229.0 L363.6,227.5 L364.6,226.0 L365.6,224.4 L366.6,222.9 L367.6,221.3 L368.6,219.8 L369.6,218.2 L370.6,216.6 L371.6,214.9 L372.6,213.3 L373.6,211.7 L374.6,210.0 L375.6,208.4 L376.6,206.7 L377.6,205.1 L378.6,203.4 L379.6,201.8 L380.6,200.1 L381.6,198.4 L382.6,196.8 L383.6,195.1 L384.6,193.5 L385.6,191.8 L386.6,190.2 L387.6,188.6 L388.6,186.9 L389.6,185.3 L390.6,183.7 L391.6,182.2 L392.6,180.6 L393.6,179.0 L394.6,177.5 L395.6,176.0 L396.6,174.5 L397.6,173.0 L398.6,171.6 L399.6,170.2 L400.6,168.8 L401.6,167.4 L402.6,166.0 L403.6,164.7 L404.6,163.4 L405.6,162.1 L406.6,160.9 L407.6,159.7 L408.6,158.5 L409.6,157.3 L410.6,156.2 L411.6,155.1 L412.6,154.1 L413.6,153.0 L414.6,152.0 L415.6,151.1 L416.6,150.1 L417.6,149.2 L418.6,148.3 L419.6,147.5 L420.6,146.7 L421.6,145.9 L422.6,145.2 L423.6,144.5 L424.6,143.8 L425.6,143.2 L426.6,142.6 L427.6,142.1 L428.6,141.5 L429.6,141.0 L430.6,140.6 L431.6,140.1 L432.6,139.7 L433.6,139.4 L434.6,139.0 L435.6,138.7 L436.6,138.4 L437.6,138.1 L438.6,137.8 L439.6,137.6 L440.6,137.4 L441.6,137.2 L442.6,137.0 L443.6,136.9 L444.6,136.7 L445.0,136.7" fill="none" stroke="#808080" stroke-width="2" stroke-linejoin="round"/>
<path d="M72.6,308.0 L73.6,307.9 L74.6,307.7 L75.6,307.6 L76.6,307.5 L77.6,307.3 L78.6,307.2 L79.6,307.0 L80.6,306.9 L81.6,306.8 L82.6,306.6 L83.6,306.5 L84.6,306.3 L85.6,306.2 L86.6,306.0 L87.6,305.9 L88.6,305.7 L89.6,305.5 L90.6,305.4 L91.6,305.2 L92.6,305.1 L93.6,304.9 L94.6,304.7 L95.6,304.6 L96.6,304.4 L97.6,304.2 L98.6,304.0 L99.6,303.9 L100.6,303.7 L101.6,303.5 L102.6,303.3 L103.6,303.1 L104.6,302.9 L105.6,302.7 L106.6,302.5 L107.6,302.3 L108.6,302.1 L109.6,301.9 L110.6,301.7 L111.6,301.5 L112.6,301.3 L113.6,301.1 L114.6,300.8 L115.6,300.6 L116.6,300.4 L117.6,300.1 L118.6,299.9 L119.6,299.6 L120.6,299.4 L121.6,299.1 L122.6,298.9 L123.6,298.6 L124.6,298.3 L125.6,298.1 L126.6,297.8 L127.6,297.5 L128.6,297.2 L129.6,296.9 L130.6,296.6 L131.6,296.3 L132.6,296.0 L133.6,295.7 L134.6,295.4 L135.6,295.1 L136.6,294.7 L137.6,294.4 L138.6,294.0 L139.6,293.7 L140.6,293.3 L141.6,293.0 L142.6,292.6 L143.6,292.3 L144.6,291.9 L145.6,291.5 L146.6,291.1 L147.6,290.7 L148.6,290.3 L149.6,289.9 L150.6,289.5 L151.6,289.1 L152.6,288.6 L153.6,288.2 L154.6,287.7 L155.6,287.3 L156.6,286.8 L157.6,286.4 L158.6,285.9 L159.6,285.4 L160.6,284.9 L161.6,284.4 L162.6,283.9 L163.6,283.4 L164.6,282.8 L165.6,282.3 L166.6,281.8 L167.6,281.2 L168.6,280.6 L169.6,280.1 L170.6,279.5 L171.6,278.9 L172.6,278.3 L173.6,277.7 L174.6,277.1 L175.6,276.4 L176.6,275.8 L177.6,275.2 L178.6,274.5 L179.6,273.8 L180.6,273.1 L181.6,272.4 L182.6,271.7 L183.6,271.0 L184.6,270.3 L185.6,269.6 L186.6,268.8 L187.6,268.0 L188.6,267.3 L189.6,266.5 L190.6,265.7 L191.6,264.9 L192.6,264.0 L193.6,263.2 L194.6,262.3 L195.6,261.5 L196.6,260.6 L197.6,259.7 L198.6,258.8 L199.6,257.9 L200.6,256.9 L201.6,256.0 L202.6,255.0 L203.6,254.0 L204.6,253.0 L205.6,252.0 L206.6,250.9 L207.6,249.9 L208.6,248.8 L209.6,247.7 L210.6,246.6 L211.6,245.5 L212.6,244.4 L213.6,243.2 L214.6,242.1 L215.6,240.9 L216.6,239.7 L217.6,238.4 L218.6,237.2 L219.6,235.9 L220.6,234.7 L221.6,233.4 L222.6,232.1 L223.6,230.7 L224.6,229.4 L225.6,228.0 L226.6,226.7 L227.6,225.3 L228.6,223.8 L229.6,222.4 L230.6,221.0 L231.6,219.5 L232.6,218.0 L233.6,216.5 L234.6,215.0 L235.6,213.5 L236.6,211.9 L237.6,210.4 L238.6,208.8 L239.6,207.2 L240.6,205.6 L241.6,204.0 L242.6,202.3 L243.6,200.6 L244.6,199.0 L245.6,197.3 L246.6,195.6 L247.6,193.8 L248.6,192.1 L249.6,190.3 L250.6,188.5 L251.6,186.7 L252.6,184.9 L253.6,183.1 L254.6,181.3 L255.6,179.4 L256.6,177.5 L257.6,175.6 L258.6,173.7 L259.6,171.8 L260.6,169.9 L261.6,167.9 L262.6,165.9 L263.6,164.0 L264.6,162.0 L265.6,160.0 L266.6,158.0 L267.6,155.9 L268.6,153.9 L269.6,151.9 L270.6,149.8 L271.6,147.8 L272.6,145.8 L273.6,143.7 L274.6,141.7 L275.6,139.7 L276.6,137.6 L277.6,135.6 L278.6,133.6 L279.6,131.6 L280.6,129.7 L281.6,127.7 L282.6,125.8 L283.6,123.8 L284.6,121.9 L285.6,120.0 L286.6,118.2 L287.6,116.3 L288.6,114.5 L289.6,112.6 L290.6,110.8 L291.6,109.1 L292.6,107.3 L293.6,105.6 L294.6,103.8 L295.6,102.2 L296.6,100.5 L297.6,98.9 L298.6,97.3 L299.6,95.7 L300.6,94.1 L301.6,92.6 L302.6,91.1 L303.6,89.6 L304.6,88.2 L305.6,86.8 L306.6,85.4 L307.6,84.1 L308.6,82.8 L309.6,81.5 L310.6,80.3 L311.6,79.1 L312.6,77.9 L313.6,76.8 L314.6,75.7 L315.6,74.7 L316.6,73.7 L317.6,72.7 L318.6,71.8 L319.6,70.9 L320.6,70.0 L321.6,69.2 L322.6,68.4 L323.6,67.6 L324.6,66.9 L325.6,66.2 L326.6,65.5 L327.6,64.9 L328.6,64.3 L329.6,63.7 L330.6,63.2 L331.6,62.7 L332.6,62.2 L333.6,61.7 L334.6,61.3 L335.6,61.0 L336.6,60.6 L337.6,60.3 L338.6,60.0 L339.6,59.7 L340.6,59.5 L341.6,59.3 L342.6,59.1 L343.6,58.9 L344.6,58.8 L344.8,58.8" fill="none" stroke="#ff00ff" stroke-width="2.0" stroke-linejoin="round"/>
<path d="M72.6,311.8 L73.6,311.8 L74.6,311.8 L75.6,311.7 L76.6,311.7 L77.6,311.7 L78.6,311.6 L79.6,311.6 L80.6,311.6 L81.6,311.6 L82.6,311.5 L83.6,311.5 L84.6,311.5 L85.6,311.5 L86.6,311.5 L87.6,311.4 L88.6,311.4 L89.6,311.4 L90.6,311.4 L91.6,311.3 L92.6,311.3 L93.6,311.3 L94.6,311.3 L95.6,311.3 L96.6,311.2 L97.6,311.2 L98.6,311.2 L99.6,311.2 L100.6,311.2 L101.6,311.1 L102.6,311.1 L103.6,311.1 L104.6,311.1 L105.6,311.1 L106.6,311.0 L107.6,311.0 L108.6,311.0 L109.6,311.0 L110.6,310.9 L111.6,310.9 L112.6,310.9 L113.6,310.9 L114.6,310.8 L115.6,310.8 L116.6,310.8 L117.6,310.8 L118.6,310.7 L119.6,310.7 L120.6,310.7 L121.6,310.6 L122.6,310.6 L123.6,310.6 L124.6,310.5 L125.6,310.5 L126.6,310.4 L127.6,310.4 L128.6,310.4 L129.6,310.3 L130.6,310.3 L131.6,310.2 L132.6,310.2 L133.6,310.1 L134.6,310.1 L135.6,310.0 L136.6,310.0 L137.6,309.9 L138.6,309.9 L139.6,309.8 L140.6,309.8 L141.6,309.7 L142.6,309.6 L143.6,309.6 L144.6,309.5 L145.6,309.4 L146.6,309.4 L147.6,309.3 L148.6,309.2 L149.6,309.1 L150.6,309.1 L151.6,309.0 L152.6,308.9 L153.6,308.8 L154.6,308.7 L155.6,308.6 L156.6,308.5 L157.6,308.4 L158.6,308.3 L159.6,308.2 L160.6,308.1 L161.6,308.0 L162.6,307.9 L163.6,307.8 L164.6,307.7 L165.6,307.5 L166.6,307.4 L167.6,307.3 L168.6,307.1 L169.6,307.0 L170.6,306.8 L171.6,306.7 L172.6,306.5 L173.6,306.4 L174.6,306.2 L175.6,306.0 L176.6,305.9 L177.6,305.7 L178.6,305.5 L179.6,305.3 L180.6,305.1 L181.6,304.9 L182.6,304.7 L183.6,304.5 L184.6,304.3 L185.6,304.1 L186.6,303.8 L187.6,303.6 L188.6,303.4 L189.6,303.1 L190.6,302.8 L191.6,302.6 L192.6,302.3 L193.6,302.0 L194.6,301.8 L195.6,301.5 L196.6,301.2 L197.6,300.9 L198.6,300.6 L199.6,300.2 L200.6,299.9 L201.6,299.6 L202.6,299.2 L203.6,298.9 L204.6,298.5 L205.6,298.2 L206.6,297.8 L207.6,297.4 L208.6,297.0 L209.6,296.6 L210.6,296.2 L211.6,295.8 L212.6,295.4 L213.6,295.0 L214.6,294.5 L215.6,294.1 L216.6,293.6 L217.6,293.1 L218.6,292.7 L219.6,292.2 L220.6,291.7 L221.6,291.2 L222.6,290.7 L223.6,290.1 L224.6,289.6 L225.6,289.1 L226.6,288.5 L227.6,287.9 L228.6,287.3 L229.6,286.7 L230.6,286.1 L231.6,285.5 L232.6,284.8 L233.6,284.1 L234.6,283.4 L235.6,282.7 L236.6,282.0 L237.6,281.2 L238.6,280.4 L239.6,279.5 L240.6,278.7 L241.6,277.8 L242.6,276.8 L243.6,275.9 L244.6,274.8 L245.6,273.8 L246.6,272.7 L247.6,271.6 L248.6,270.4 L249.6,269.2 L250.6,268.0 L251.6,266.7 L252.6,265.4 L253.6,264.1 L254.6,262.7 L255.6,261.3 L256.6,259.8 L257.6,258.4 L258.6,256.8 L259.6,255.3 L260.6,253.7 L261.6,252.1 L262.6,250.4 L263.6,248.8 L264.6,247.1 L265.6,245.3 L266.6,243.5 L267.6,241.6 L268.6,239.6 L269.6,237.6 L270.6,235.4 L271.6,233.2 L272.6,230.9 L273.6,228.4 L274.6,225.9 L275.6,223.2 L276.6,220.5 L277.6,217.7 L278.6,214.8 L279.6,211.9 L280.6,208.9 L281.6,205.9 L282.6,202.9 L283.6,199.9 L284.6,196.8 L285.6,193.8 L286.6,190.7 L287.6,187.7 L288.6,184.6 L289.6,181.5 L290.6,178.4 L291.6,175.3 L292.6,172.2 L293.6,169.1 L294.6,165.9 L295.6,162.7 L296.6,159.4 L297.6,156.1 L298.6,152.7 L299.6,149.2 L300.6,145.6 L301.6,141.9 L302.6,138.2 L303.6,134.4 L304.6,130.6 L305.6,126.8 L306.6,123.2 L307.6,119.6 L308.6,116.2 L309.6,113.0 L310.6,109.9 L311.6,106.9 L312.6,104.1 L313.6,101.3 L314.6,98.7 L315.6,96.1 L316.6,93.5 L317.6,90.9 L318.6,88.4 L319.6,85.9 L320.6,83.5 L321.6,81.2 L322.6,79.1 L323.6,77.0 L324.6,75.1 L325.6,73.3 L326.6,71.6 L327.6,69.9 L328.6,68.4 L329.6,67.0 L330.6,65.6 L331.6,64.4 L332.6,63.2 L333.6,62.1 L334.6,61.0 L335.6,60.1 L336.6,59.2 L337.6,58.3 L338.6,57.6 L339.6,56.8 L340.6,56.2 L341.6,55.5 L342.6,55.0 L343.6,54.4 L344.6,54.0 L345.6,53.5 L346.6,53.1 L347.6,52.8 L348.6,52.4 L349.6,52.1 L350.6,51.9 L351.6,51.6 L352.6,51.4 L353.6,51.2 L354.6,51.0 L355.6,50.8 L356.6,50.7 L357.6,50.6 L358.6,50.4 L359.6,50.3 L360.6,50.2 L361.6,50.1 L362.6,50.0 L363.6,49.9 L364.6,49.8 L365.6,49.7 L366.6,49.5 L367.6,49.4 L368.6,49.3 L369.6,49.1 L370.6,48.9 L371.6,48.7 L372.6,48.5 L373.0,48.4" fill="none" stroke="#00c408" stroke-width="2.25" stroke-linejoin="round"/>
<path d="M339.9,230.3V264.9M334.1,230.3H345.7M334.1,264.9H345.7" stroke="#808080" stroke-width="1.8" fill="none"/>
<path d="M373.2,203.1V247.7M367.4,203.1H379.0M367.4,247.7H379.0" stroke="#808080" stroke-width="1.8" fill="none"/>
<path d="M418.4,122.0V150.0M412.6,122.0H424.2M412.6,150.0H424.2" stroke="#808080" stroke-width="1.8" fill="none"/>
<path d="M433.0,122.0V150.0M427.2,122.0H438.8M427.2,150.0H438.8" stroke="#808080" stroke-width="1.8" fill="none"/>
<path d="M444.9,124.8V169.8M439.1,124.8H450.7M439.1,169.8H450.7" stroke="#808080" stroke-width="1.8" fill="none"/>
<rect x="333.9" y="241.6" width="11.9" height="11.9" fill="#808080"/>
<rect x="367.3" y="219.5" width="11.9" height="11.9" fill="#808080"/>
<rect x="412.5" y="130.0" width="11.9" height="11.9" fill="#808080"/>
<rect x="427.1" y="130.0" width="11.9" height="11.9" fill="#808080"/>
<rect x="439.0" y="141.4" width="11.9" height="11.9" fill="#808080"/>
<path d="M222.9,225.0V247.6M217.1,225.0H228.7M217.1,247.6H228.7" stroke="#ff00ff" stroke-width="1.8" fill="none"/>
<path d="M274.4,113.9V158.4M268.6,113.9H280.2M268.6,158.4H280.2" stroke="#ff00ff" stroke-width="1.8" fill="none"/>
<path d="M306.5,78.0V106.0M300.7,78.0H312.3M300.7,106.0H312.3" stroke="#ff00ff" stroke-width="1.8" fill="none"/>
<path d="M339.9,56.4V83.0M334.1,56.4H345.7M334.1,83.0H345.7" stroke="#ff00ff" stroke-width="1.8" fill="none"/>
<path d="M222.9,230.4L229.0,242.1H216.8Z" fill="#ff00ff"/>
<path d="M274.4,130.3L280.4,142.0H268.3Z" fill="#ff00ff"/>
<path d="M306.5,86.2L312.6,97.9H300.5Z" fill="#ff00ff"/>
<path d="M339.9,63.9L345.9,75.6H333.8Z" fill="#ff00ff"/>
<path d="M343.2,39.6L351.8,53.2H338Z" fill="#ff00ff"/>
<path d="M222.9,278.0V306.0M217.1,278.0H228.7M217.1,306.0H228.7" stroke="#00c408" stroke-width="2.0" fill="none"/>
<path d="M274.4,202.6V247.4M268.6,202.6H280.2M268.6,247.4H280.2" stroke="#00c408" stroke-width="2.0" fill="none"/>
<path d="M306.5,114.4V140.6M300.7,114.4H312.3M300.7,140.6H312.3" stroke="#00c408" stroke-width="2.0" fill="none"/>
<path d="M358.6,47.7V81.0M352.8,47.7H364.4M352.8,81.0H364.4" stroke="#00c408" stroke-width="2.0" fill="none"/>
<circle cx="222.9" cy="292.0" r="5.85" fill="#fff" stroke="#00c408" stroke-width="2.15"/>
<circle cx="274.4" cy="225.0" r="5.85" fill="#fff" stroke="#00c408" stroke-width="2.15"/>
<circle cx="306.5" cy="127.5" r="5.85" fill="#fff" stroke="#00c408" stroke-width="2.15"/>
<circle cx="339.9" cy="47.4" r="5.85" fill="#fff" stroke="#00c408" stroke-width="2.15"/>
<circle cx="358.6" cy="64.4" r="5.85" fill="#fff" stroke="#00c408" stroke-width="2.15"/>
<circle cx="373.2" cy="47.4" r="5.85" fill="#fff" stroke="#00c408" stroke-width="2.15"/>
<path d="M72.9,12.2V314.5" stroke="#1a1a1a" stroke-width="1.5" fill="none"/>
<path d="M60,313.8H524.3" stroke="#1a1a1a" stroke-width="1.6" fill="none"/>
<path d="M60,247.2H72.6M60,180.6H72.6M60,114.0H72.6M60,47.4H72.6" stroke="#1a1a1a" stroke-width="1.45" fill="none"/>
<path d="M72.6,313.8v12.5M117.8,313.8v7.3M144.3,313.8v7.3M163.1,313.8v7.3M177.7,313.8v7.3M189.6,313.8v7.3M199.6,313.8v7.3M208.3,313.8v7.3M216.0,313.8v7.3M222.9,313.8v12.5M268.1,313.8v7.3M294.6,313.8v7.3M313.4,313.8v7.3M328.0,313.8v7.3M339.9,313.8v7.3M349.9,313.8v7.3M358.6,313.8v7.3M366.3,313.8v7.3M373.2,313.8v12.5M418.4,313.8v7.3M444.9,313.8v7.3M463.7,313.8v7.3M478.3,313.8v7.3M490.2,313.8v7.3M500.2,313.8v7.3M508.9,313.8v7.3M516.6,313.8v7.3M523.5,313.8v12.5" stroke="#1a1a1a" stroke-width="1.45" fill="none"/>
<text x="56.3" y="321.8" text-anchor="end" font-size="22.4" font-family="Liberation Sans, Arial, sans-serif" stroke="#000" stroke-width="0.3" fill="#000">0</text>
<text x="56.3" y="255.2" text-anchor="end" font-size="22.4" font-family="Liberation Sans, Arial, sans-serif" stroke="#000" stroke-width="0.3" fill="#000">1</text>
<text x="56.3" y="188.6" text-anchor="end" font-size="22.4" font-family="Liberation Sans, Arial, sans-serif" stroke="#000" stroke-width="0.3" fill="#000">2</text>
<text x="56.3" y="122.0" text-anchor="end" font-size="22.4" font-family="Liberation Sans, Arial, sans-serif" stroke="#000" stroke-width="0.3" fill="#000">3</text>
<text x="56.3" y="55.4" text-anchor="end" font-size="22.4" font-family="Liberation Sans, Arial, sans-serif" stroke="#000" stroke-width="0.3" fill="#000">4</text>
<path d="M44.87,252.70H49.35V256.10H44.87ZM52.03,252.70H56.71V256.10H52.03Z" fill="#fff"/>
<text x="72.6" y="352" text-anchor="middle" font-size="22.4" font-family="Liberation Sans, Arial, sans-serif" stroke="#000" stroke-width="0.3" fill="#000">0.1</text>
<path d="M76.74,349.50H81.22V352.90H76.74ZM83.90,349.50H88.58V352.90H83.90Z" fill="#fff"/>
<text x="222.9" y="352" text-anchor="middle" font-size="22.4" font-family="Liberation Sans, Arial, sans-serif" stroke="#000" stroke-width="0.3" fill="#000">1</text>
<path d="M217.70,349.50H222.18V352.90H217.70ZM224.86,349.50H229.54V352.90H224.86Z" fill="#fff"/>
<text x="373.2" y="352" text-anchor="middle" font-size="22.4" font-family="Liberation Sans, Arial, sans-serif" stroke="#000" stroke-width="0.3" fill="#000">10</text>
<path d="M361.77,349.50H366.25V352.90H361.77ZM368.93,349.50H373.61V352.90H368.93Z" fill="#fff"/>
<text x="523.5" y="352" text-anchor="middle" font-size="22.4" font-family="Liberation Sans, Arial, sans-serif" stroke="#000" stroke-width="0.3" fill="#000">100</text>
<path d="M505.84,349.50H510.32V352.90H505.84ZM513.00,349.50H517.68V352.90H513.00Z" fill="#fff"/>
<text x="293.4" y="387.4" text-anchor="middle" font-size="24.8" font-family="Liberation Sans, Arial, sans-serif" stroke="#000" stroke-width="0.3" fill="#000">BoNT (pg/mouse)</text>
<text transform="translate(31.1,164.3) rotate(-90)" text-anchor="middle" font-size="25.1" font-family="Liberation Sans, Arial, sans-serif" stroke="#000" stroke-width="0.3" fill="#000">Mean DAS</text>
<path d="M102.3,50H134.7" stroke="#00c408" stroke-width="2.3"/>
<circle cx="118.6" cy="50.0" r="5.85" fill="#fff" stroke="#00c408" stroke-width="2.15"/>
<path d="M102.4,82.8H134.4" stroke="#808080" stroke-width="2.2"/>
<rect x="112.5" y="76.8" width="11.9" height="11.9" fill="#808080"/>
<path d="M102.4,115.2H134.4" stroke="#ff00ff" stroke-width="2.4"/>
<path d="M118.4,109.2L124.5,120.8H112.4Z" fill="#ff00ff"/>
<text x="145" y="57.6" font-size="20.9" font-family="Liberation Sans, Arial, sans-serif" stroke="#000" stroke-width="0.3" fill="#000">BoNT/CD<tspan font-size="12" dy="2.8">003-9</tspan></text>
<text x="145" y="89.9" font-size="20.9" font-family="Liberation Sans, Arial, sans-serif" stroke="#000" stroke-width="0.3" fill="#000">BoNT/C<tspan font-size="12" dy="2.8">YOI</tspan></text>
<text x="145" y="123.2" font-size="20.9" font-family="Liberation Sans, Arial, sans-serif" stroke="#000" stroke-width="0.3" fill="#000">BoNT/A</text>
</svg>
</body></html>
